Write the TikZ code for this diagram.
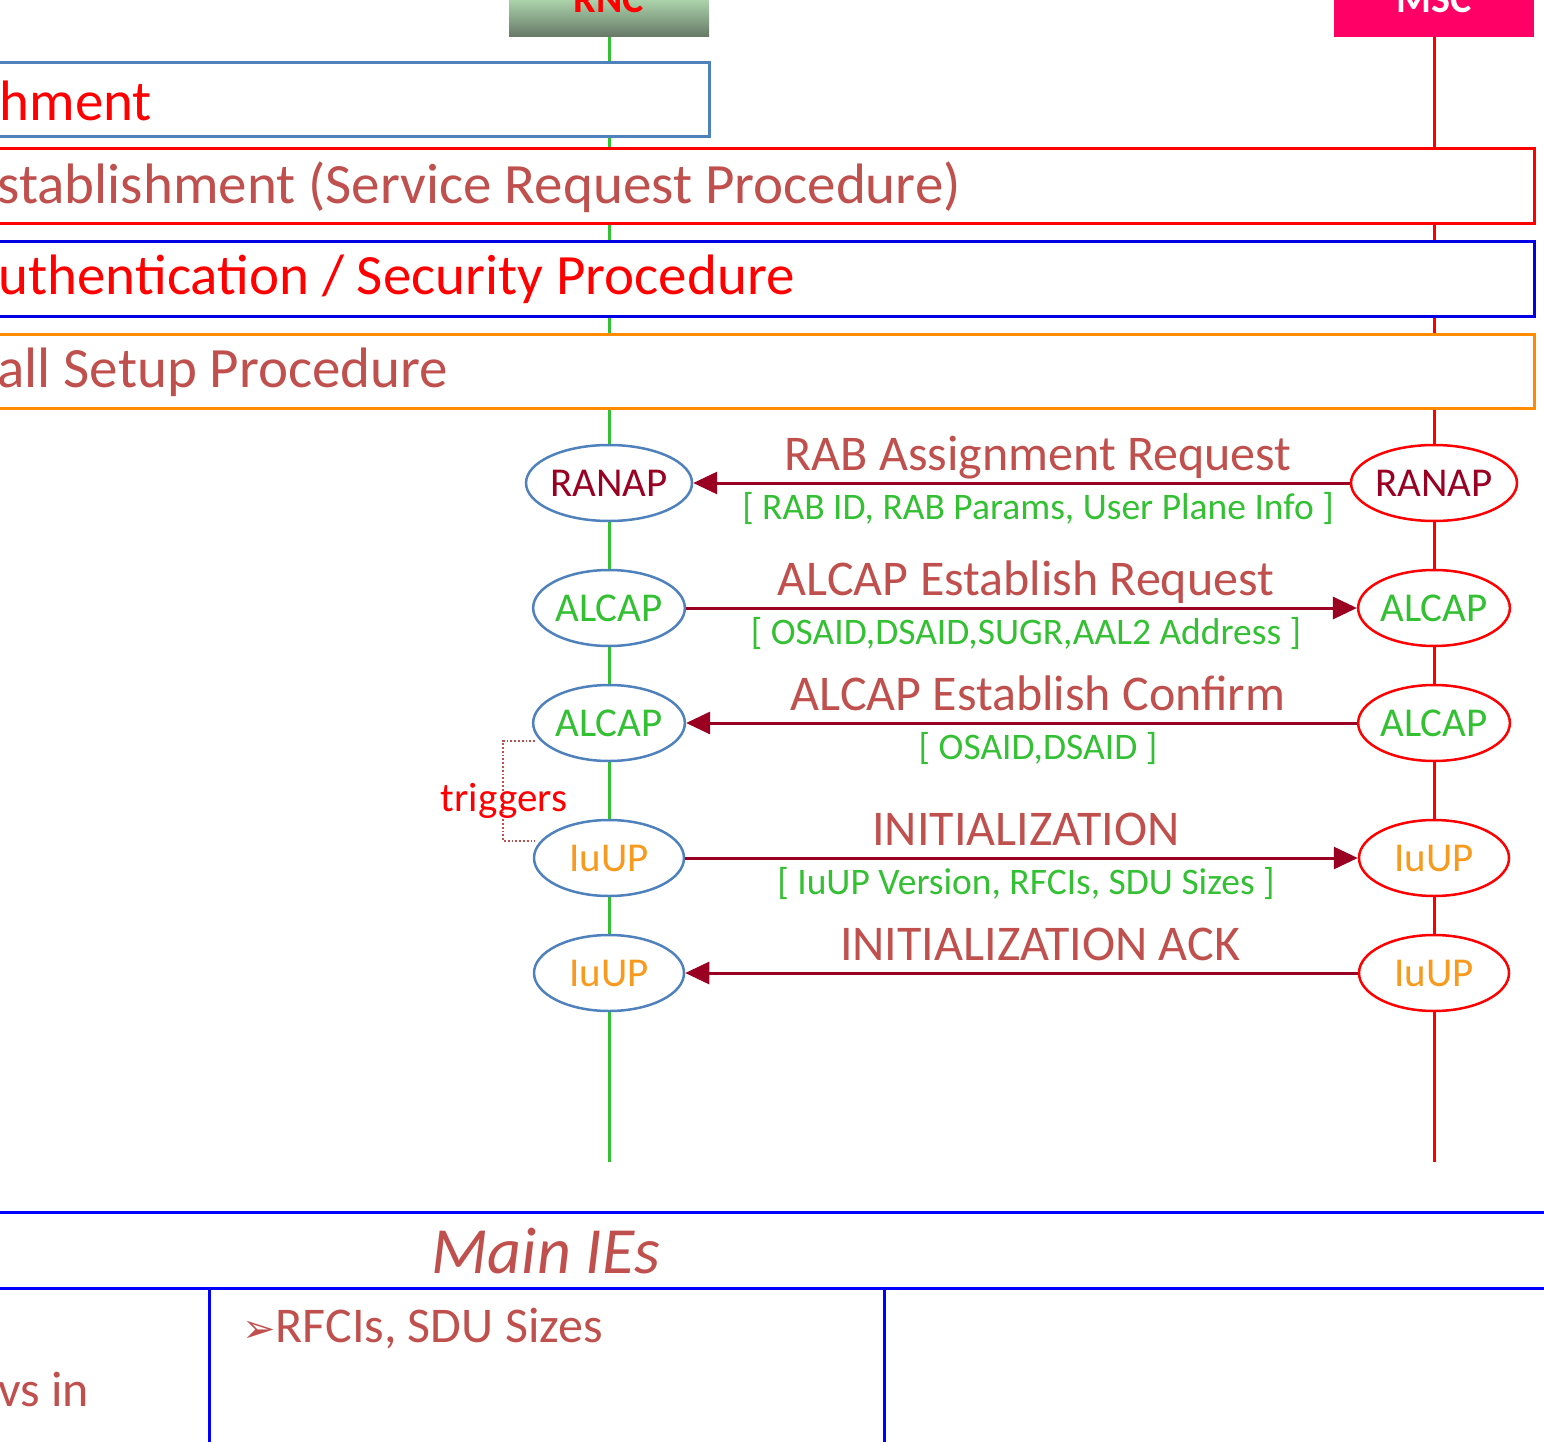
\documentclass[tikz,border=0pt]{standalone}
\usepackage{fontspec}
\setmainfont{Carlito}
\newfontfamily\dejavu{DejaVu Sans}
\usetikzlibrary{arrows.meta,shapes.geometric}
\definecolor{brn}{HTML}{C0504D}
\definecolor{msg}{HTML}{990022}
\definecolor{steel}{HTML}{4F81BD}
\definecolor{grn}{HTML}{33C033}
\definecolor{org}{HTML}{F79A1E}
\definecolor{pinkk}{HTML}{FF0066}
\definecolor{gtop}{HTML}{CCFFCC}
\definecolor{gbot}{HTML}{667766}
\tikzset{
  rnce/.style={ellipse,draw=steel,line width=2.5pt,minimum width=150pt,minimum height=76pt,inner sep=0pt,font=\fontsize{41}{44}\selectfont},
  msce/.style={ellipse,draw=red,line width=2.5pt,minimum width=150pt,minimum height=76pt,inner sep=0pt,font=\fontsize{41}{44}\selectfont,fill=white},
  msgarrow/.style={draw=msg,line width=3pt,-{Triangle[length=24pt,width=22pt]}},
  mlab/.style={text=brn,font=\fontsize{50}{54}\selectfont,anchor=base},
  slab/.style={text=grn,font=\fontsize{37.5}{40}\selectfont,anchor=base},
  proc/.style={line width=3pt},
  ptext/.style={font=\fontsize{57}{60}\selectfont,anchor=west}
}
\begin{document}
\begin{tikzpicture}[x=1pt,y=-1pt]
\useasboundingbox (0,0) rectangle (1544,1442);
\clip (0,0) rectangle (1544,1442);
% headers
\shade[top color=gtop,bottom color=gbot,middle color=gtop!70!gbot] (509,-40) rectangle (709,37);
\node[text=red,font=\bfseries\fontsize{40}{44}\selectfont] (rnc) at (609,0) {RNC};
\fill[pinkk] (1334,-40) rectangle (1534,37);
\node[text=white,font=\bfseries\fontsize{40}{44}\selectfont] (msc) at (1434,0) {MSC};
\coordinate (rtop) at (609,37); \coordinate (rbot) at (609,1162);
\coordinate (mtop) at (1434,37); \coordinate (mbot) at (1434,1162);
\draw[grn,line width=3pt] (rtop) -- (rbot);
\draw[red,line width=3pt] (mtop) -- (mbot);
% procedure boxes
\draw[proc,draw=steel,fill=white] (-10,63) rectangle (709,137);
\node[ptext,text=red] (p1) at (-4,101) {hment};
\draw[proc,draw=red,fill=white] (-10,149) rectangle (1534,223);
\node[ptext,text=brn] (p2) at (-6,187) {stablishment (Service Request Procedure)};
\draw[proc,draw=blue!90!black,fill=white] (-10,241) rectangle (1534,316);
\node[ptext,text=red] (p3) at (-5,279) {uthentication / Security Procedure};
\draw[proc,draw=orange!90!yellow,fill=white] (-10,334) rectangle (1534,408);
\node[ptext,text=brn] (p4) at (-6,372) {all Setup Procedure};
% ellipses
\node[rnce,fill=white,text=msg] (r1) at (609,483) {RANAP};
\node[msce,text=msg] (m1) at (1434,483) {RANAP};
\node[rnce,fill=white,text=grn] (r2) at (609,608) {ALCAP};
\node[msce,text=grn] (m2) at (1434,608) {ALCAP};
\node[rnce,fill=white,text=grn] (r3) at (609,723) {ALCAP};
\node[msce,text=grn] (m3) at (1434,723) {ALCAP};
\node[rnce,fill=white,text=org] (r4) at (609,858) {IuUP};
\node[msce,text=org] (m4) at (1434,858) {IuUP};
\node[rnce,fill=white,text=org] (r5) at (609,973) {IuUP};
\node[msce,text=org] (m5) at (1434,973) {IuUP};
% messages
\draw[msgarrow] (m1) -- (r1);
\node[mlab] at (1038,470) {RAB Assignment Request};
\node[slab] at (1038,519) {[ RAB ID, RAB Params, User Plane Info ]};
\draw[msgarrow] (r2) -- (m2);
\node[mlab] at (1026,595) {ALCAP Establish Request};
\node[slab] at (1026,644) {[ OSAID,DSAID,SUGR,AAL2 Address ]};
\draw[msgarrow] (m3) -- (r3);
\node[mlab] at (1038,710) {ALCAP Establish Confirm};
\node[slab] at (1038,759) {[ OSAID,DSAID ]};
\draw[msgarrow] (r4) -- (m4);
\node[mlab] at (1026,845) {INITIALIZATION};
\node[slab] at (1026,894) {[ IuUP Version, RFCIs, SDU Sizes ]};
\draw[msgarrow] (m5) -- (r5);
\node[mlab] at (1040,960) {INITIALIZATION ACK};
% triggers
\coordinate (t1) at (535,741); \coordinate (t2) at (535,841);
\draw[brn,line width=1.8pt,dotted] (t1) -- (503,741) -- (503,841) -- (t2);
\node[text=red,font=\fontsize{41}{44}\selectfont] (trig) at (504,801) {triggers};
% table
\draw[blue,line width=3pt] (-5,1212) -- (1550,1212);
\draw[blue,line width=3pt] (-5,1288) -- (1550,1288);
\draw[blue,line width=3pt] (209,1288) -- (209,1450);
\draw[blue,line width=3pt] (884,1288) -- (884,1450);
\node[text=brn,font=\itshape\fontsize{66}{70}\selectfont] (mie) at (546,1251) {Main IEs};
\node[text=brn,font=\fontsize{50}{54}\selectfont,anchor=west,inner sep=0pt] (ie1) at (242,1328) {{\dejavu\fontsize{40}{44}\selectfont ➢}RFCIs, SDU Sizes};
\node[text=brn,font=\fontsize{50}{54}\selectfont,anchor=west,inner sep=0pt] (ie2) at (-2,1389) {vs in};
\end{tikzpicture}
\end{document}
